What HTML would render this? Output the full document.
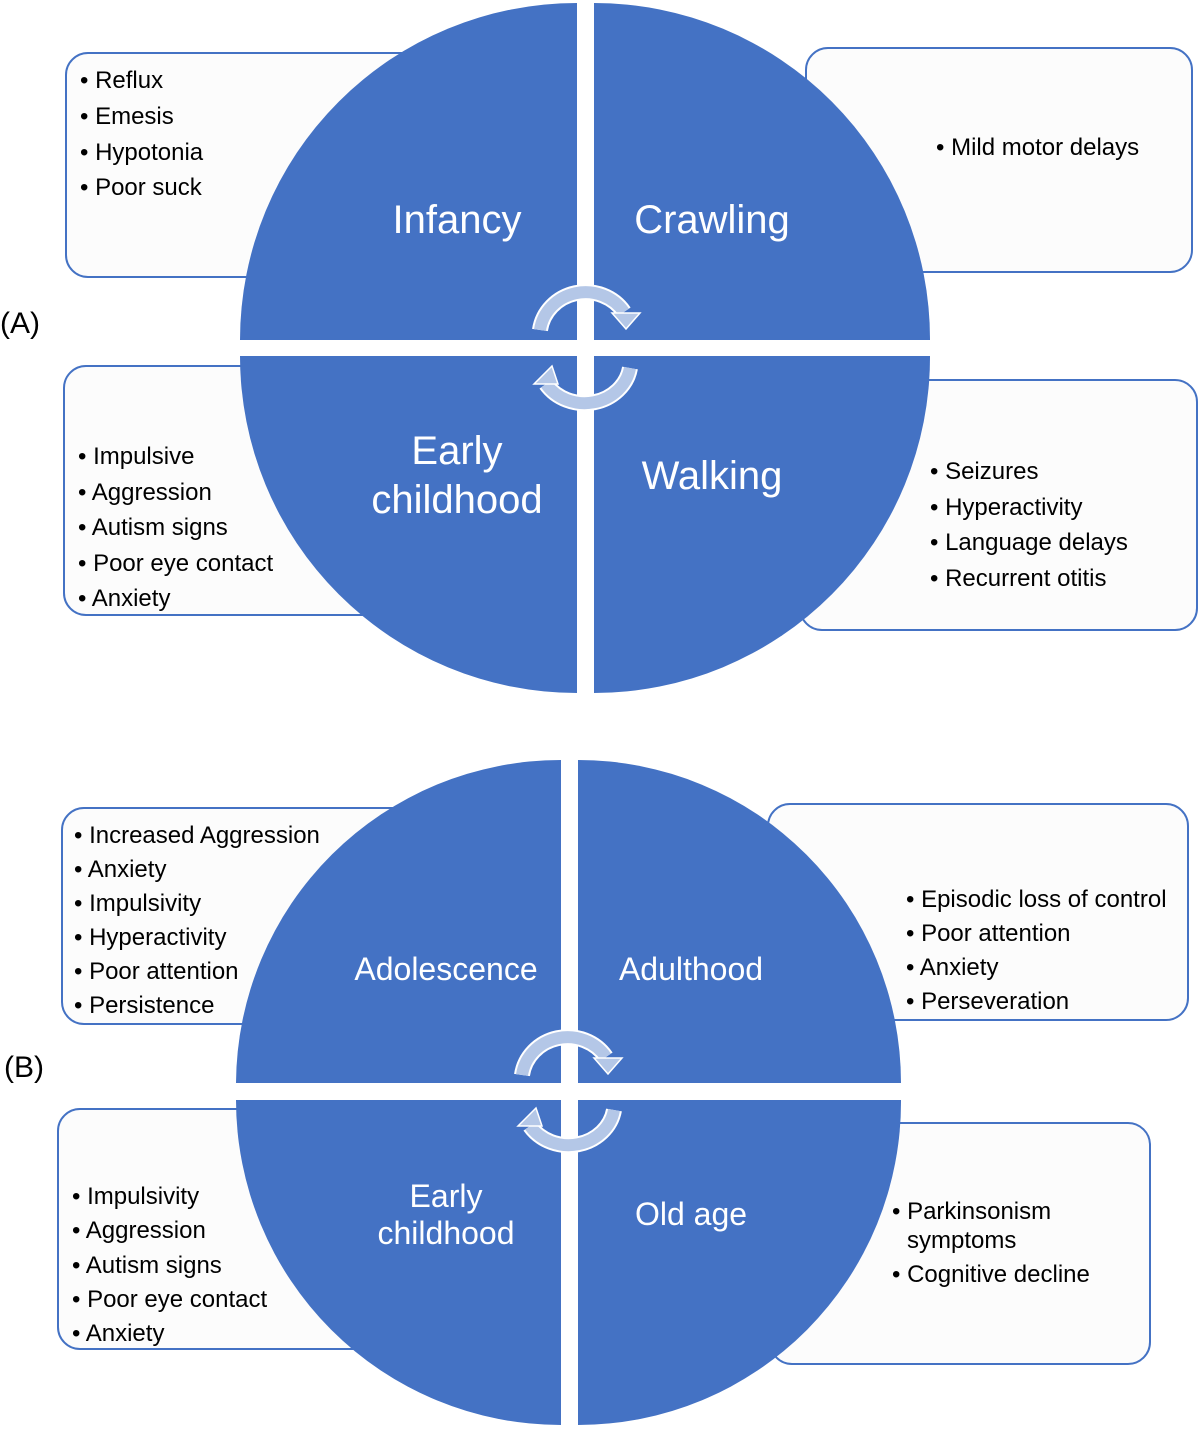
<!DOCTYPE html>
<html><head><meta charset="utf-8"><style>
html,body{margin:0;padding:0;background:#fff;}
svg{display:block;}
text{font-family:"Liberation Sans","DejaVu Sans",sans-serif;}
</style></head><body>
<svg width="1200" height="1429" viewBox="0 0 1200 1429" xmlns="http://www.w3.org/2000/svg">
<g fill="#fcfcfc" stroke="#4472c4" stroke-width="2">
<rect x="66" y="53" width="360" height="224" rx="22"/>
<rect x="806" y="48" width="386" height="224" rx="22"/>
<rect x="64" y="366" width="360" height="249" rx="22"/>
<rect x="800" y="380" width="397" height="250" rx="22"/>
<rect x="62" y="808" width="360" height="216" rx="22"/>
<rect x="768" y="804" width="420" height="216" rx="22"/>
<rect x="58" y="1109" width="360" height="240" rx="22"/>
<rect x="770" y="1123" width="380" height="241" rx="22"/>
</g>
<g fill="#4472c4">
<path d="M577 340 L240 340 A337 337 0 0 1 577 3 Z"/>
<path d="M594 340 L594 3 A336 336 0 0 1 930 340 Z"/>
<path d="M577 356 L577 693 A337 337 0 0 1 240 356 Z"/>
<path d="M594 356 L930 356 A336 336 0 0 1 594 693 Z"/>
<path d="M561 1083 L236 1083 A325 325 0 0 1 561 760 Z"/>
<path d="M578 1083 L578 760 A323 323 0 0 1 901 1083 Z"/>
<path d="M561 1100 L561 1425 A325 325 0 0 1 236 1100 Z"/>
<path d="M578 1100 L901 1100 A323 323 0 0 1 578 1425 Z"/>
</g>
<!-- arrows A -->
<g fill="none" stroke-linecap="butt">
<path d="M540 330 A46 44 0 0 1 624 312" stroke="#fff" stroke-width="16"/>
<path d="M540 330 A46 44 0 0 1 624 312" stroke="#b4c7e7" stroke-width="12"/>
<path d="M630 368 A46 42 0 0 1 546 384" stroke="#fff" stroke-width="16"/>
<path d="M630 368 A46 42 0 0 1 546 384" stroke="#b4c7e7" stroke-width="12"/>
<path d="M522 1075 A46 44 0 0 1 606 1057" stroke="#fff" stroke-width="16"/>
<path d="M522 1075 A46 44 0 0 1 606 1057" stroke="#b4c7e7" stroke-width="12"/>
<path d="M614 1110 A46 42 0 0 1 530 1126" stroke="#fff" stroke-width="16"/>
<path d="M614 1110 A46 42 0 0 1 530 1126" stroke="#b4c7e7" stroke-width="12"/>
</g>
<g fill="#b4c7e7" stroke="#fff" stroke-width="1.5">
<polygon points="612,313 640,313 626,329"/>
<polygon points="534,384 552,366 558,384"/>
<polygon points="594,1058 622,1058 608,1074"/>
<polygon points="518,1126 536,1108 542,1126"/>
</g>
<g fill="#fff" text-anchor="middle">
<text x="457" y="233" font-size="40">Infancy</text>
<text x="712" y="233" font-size="40">Crawling</text>
<text x="457" y="464" font-size="40">Early</text>
<text x="457" y="513" font-size="40">childhood</text>
<text x="712" y="489" font-size="40">Walking</text>
<text x="446" y="980" font-size="32">Adolescence</text>
<text x="691" y="980" font-size="32">Adulthood</text>
<text x="446" y="1207" font-size="32">Early</text>
<text x="446" y="1244" font-size="32">childhood</text>
<text x="691" y="1225" font-size="32">Old age</text>
</g>
<g fill="#000" font-size="24">
<text x="0" y="333" font-size="30">(A)</text>
<text x="4" y="1077" font-size="30">(B)</text>
<text x="80" y="88">• Reflux</text>
<text x="80" y="124">• Emesis</text>
<text x="80" y="160">• Hypotonia</text>
<text x="80" y="195">• Poor suck</text>
<text x="936" y="155">• Mild motor delays</text>
<text x="78" y="464">• Impulsive</text>
<text x="78" y="500">• Aggression</text>
<text x="78" y="535">• Autism signs</text>
<text x="78" y="571">• Poor eye contact</text>
<text x="78" y="606">• Anxiety</text>
<text x="930" y="479">• Seizures</text>
<text x="930" y="515">• Hyperactivity</text>
<text x="930" y="550">• Language delays</text>
<text x="930" y="586">• Recurrent otitis</text>
<text x="74" y="843">• Increased Aggression</text>
<text x="74" y="877">• Anxiety</text>
<text x="74" y="911">• Impulsivity</text>
<text x="74" y="945">• Hyperactivity</text>
<text x="74" y="979">• Poor attention</text>
<text x="74" y="1013">• Persistence</text>
<text x="906" y="907">• Episodic loss of control</text>
<text x="906" y="941">• Poor attention</text>
<text x="906" y="975">• Anxiety</text>
<text x="906" y="1009">• Perseveration</text>
<text x="72" y="1204">• Impulsivity</text>
<text x="72" y="1238">• Aggression</text>
<text x="72" y="1273">• Autism signs</text>
<text x="72" y="1307">• Poor eye contact</text>
<text x="72" y="1341">• Anxiety</text>
<text x="892" y="1219">• Parkinsonism</text>
<text x="907" y="1248">symptoms</text>
<text x="892" y="1282">• Cognitive decline</text>
</g>
</svg>
</body></html>
